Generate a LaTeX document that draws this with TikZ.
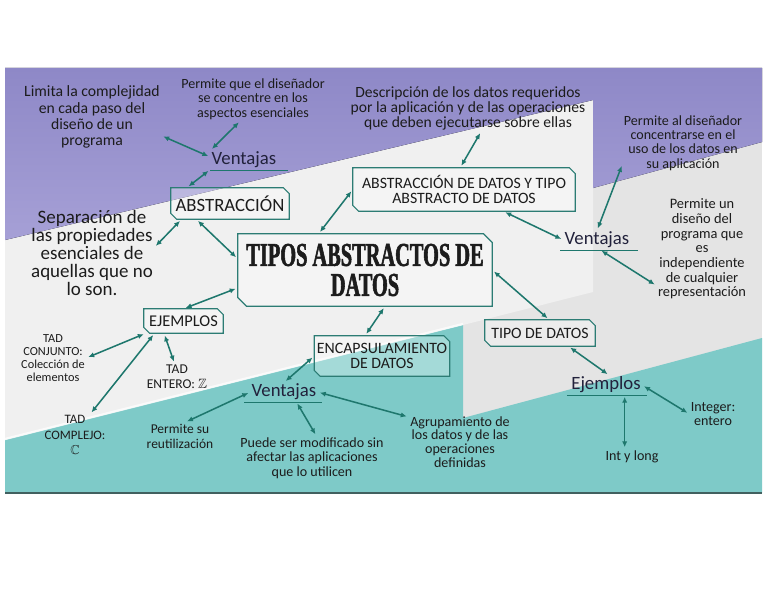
\documentclass[tikz,border=0pt]{standalone}
\usepackage{fontspec}
\usepackage{amssymb}
\setmainfont{Carlito}
\newfontfamily\titlefont[FakeStretch=0.61,FakeBold=1.6]{Liberation Serif}
\usetikzlibrary{arrows.meta}
\definecolor{lilac}{HTML}{A6A0D6}
\definecolor{lilactop}{HTML}{8E88C7}
\definecolor{paper}{HTML}{F0F0F0}
\definecolor{greyface}{HTML}{E4E4E4}
\definecolor{sea}{HTML}{7ECAC8}
\definecolor{linkteal}{HTML}{1E776D}
\definecolor{boxteal}{HTML}{2C7C74}
\definecolor{ink}{HTML}{1C1C1C}
\definecolor{navy}{HTML}{22223C}
\definecolor{rim}{HTML}{41605F}

\pgfdeclarelayer{back}
\pgfsetlayers{back,main}

% outline with two snipped corners (north east, south west)
\newcommand{\snipbox}[2][5pt]{%
	\begin{pgfonlayer}{back}
	\draw[boxline] (#2.north west) -- ([xshift=-#1]#2.north east) -- ([yshift=-#1]#2.north east) -- (#2.south east) -- ([xshift=#1]#2.south west) -- ([yshift=#1]#2.south west) -- cycle;
	\end{pgfonlayer}}

\begin{document}
\begin{tikzpicture}[x=0.03cm,y=-0.03cm,
	link/.style={draw=linkteal, line width=1.3pt, {Latex[length=5pt,width=4.5pt]}-{Latex[length=5pt,width=4.5pt]}, shorten <=2pt, shorten >=2pt},
	box/.style={inner sep=1pt, align=center, text=ink, font=\fontsize{13.5}{13}\selectfont},
	boxline/.style={draw=boxteal, line width=1pt, fill=white, fill opacity=.3},
	note/.style={align=center, inner sep=1pt, text=ink, font=\fontsize{12}{12.2}\selectfont},
	ventaja/.style={inner sep=1pt, text=navy, font=\fontsize{16}{18}\selectfont},
	uline/.style={draw=linkteal, line width=1.3pt}]

	\useasboundingbox (0,0) rectangle (768,594);

	% background
	\begin{pgfonlayer}{back}
	\fill[greyface] (5,68) rectangle (762,493);
	\fill[paper] (5,240) -- (593,100) -- (593,292) -- (463,325) -- (5,440) -- cycle;
	\fill[top color=lilactop, bottom color=lilac] (5,68) -- (762,68) -- (762,142) -- (593,188) -- (593,100) -- (5,240) -- cycle;
	\fill[sea] (5,440) -- (463,325) -- (463,418) -- (762,338) -- (762,493) -- (5,493) -- cycle;
	\draw[white, line width=2pt, opacity=.7] (5,439) -- (463,324);
	\draw[rim, line width=1.5pt] (5,493) -- (762,493);
	\end{pgfonlayer}

	% boxes
	\node[box, minimum width=7.62cm, minimum height=2.16cm, font=\titlefont\bfseries\fontsize{28.5}{25.6}\selectfont] (tad) at (365,270) {TIPOS ABSTRACTOS DE\\DATOS};
	\node[box, minimum width=3.54cm, minimum height=0.93cm, font=\fontsize{16}{16}\selectfont] (abstr) at (230,203.5) {ABSTRACCIÓN};
	\node[box, minimum width=6.66cm, minimum height=1.29cm] (adt) at (464,189.5) {ABSTRACCIÓN DE DATOS Y TIPO\\ABSTRACTO DE DATOS};
	\node[box, minimum width=2.37cm, minimum height=0.72cm, font=\fontsize{14}{14}\selectfont] (ejemplos) at (183.5,321) {EJEMPLOS};
	\node[box, minimum width=4.05cm, minimum height=1.2cm] (encap) at (382,356) {ENCAPSULAMIENTO\\DE DATOS};
	\node[box, minimum width=3.3cm, minimum height=0.78cm] (tipo) at (540,333) {TIPO DE DATOS};
	\snipbox[7.5pt]{tad}
	\snipbox{abstr}
	\snipbox{adt}
	\snipbox{ejemplos}
	\snipbox{encap}
	\snipbox{tipo}

	% ventajas / ejemplos
	\node[ventaja] (venA) at (244,160) {Ventajas};
	\node[ventaja] (venB) at (597,240) {Ventajas};
	\node[ventaja] (venC) at (284,392) {Ventajas};
	\node[ventaja] (ejB) at (606,385) {Ejemplos};
	\draw[uline] (venA.south west) ++(0,1) -- ++(78,0);
	\draw[uline] (venB.south west) ++(-3,1) -- ++(78,0);
	\draw[uline] (venC.south west) ++(-6,1) -- ++(78,0);
	\draw[uline] (ejB.south west) ++(-3,1) -- ++(80,0);

	% texts
	\node[note, font=\fontsize{13.4}{13.8}\selectfont] (limita) at (92,117) {Limita la complejidad\\en cada paso del\\diseño de un\\programa};
	\node[note] (permiteQ) at (253,99) {Permite que el diseñador\\se concentre en los\\aspectos esenciales};
	\node[note, font=\fontsize{16.2}{15.4}\selectfont] (separa) at (92,253) {Separación de\\las propiedades\\esenciales de\\aquellas que no\\lo son.};
	\node[note, font=\fontsize{13.3}{12.8}\selectfont] (descr) at (468,108) {Descripción de los datos requeridos\\por la aplicación y de las operaciones\\que deben ejecutarse sobre ellas};
	\node[note] (permiteA) at (683,143) {Permite al diseñador\\concentrarse en el\\uso de los datos en\\su aplicación};
	\node[note, font=\fontsize{12.3}{12.5}\selectfont] (permiteU) at (702,249) {Permite un\\diseño del\\programa que\\es\\independiente\\de cualquier\\representación};
	\node[note, font=\fontsize{10.5}{11}\selectfont] (conjunto) at (53,358) {TAD\\CONJUNTO:\\Colección de\\elementos};
	\node[note, font=\fontsize{11.5}{12.8}\selectfont] (entero) at (177,377) {TAD\\ENTERO: $\mathbb{Z}$};
	\node[note, font=\fontsize{11}{13}\selectfont] (complejo) at (75,435) {TAD\\COMPLEJO:\\$\mathbb{C}$};
	\node[note, font=\fontsize{11.5}{12.8}\selectfont] (permiteS) at (180,436) {Permite su\\reutilización};
	\node[note] (puede) at (312,458) {Puede ser modificado sin\\afectar las aplicaciones\\que lo utilicen};
	\node[note, font=\fontsize{12}{11.7}\selectfont] (agrupa) at (460,442) {Agrupamiento de\\los datos y de las\\operaciones\\definidas};
	\node[note, font=\fontsize{12}{11.2}\selectfont] (integer) at (713,414) {Integer:\\entero};
	\node[note] (intlong) at (632,457) {Int y long};

	% connectors
	\draw[link] (limita.-15) -- (venA.175);
	\draw[link] (permiteQ.240) -- (venA.north west);
	\draw[link] (venA.south west) -- (abstr.160);
	\draw[link] (abstr.198) -- (separa.5);
	\draw[link] (abstr.205) -- (tad.175);
	\draw[link] (tad.142) -- (adt.west);
	\draw[link] (descr.-60) -- (adt.100);
	\draw[link] (adt.-29) -- (venB.west);
	\draw[link] (venB.north) -- (permiteA.199);
	\draw[link] (venB.-75) -- (permiteU.219);
	\draw[link] (tad.east) -- (tipo.55);
	\draw[link] (tad.-61) -- (encap.130);
	\draw[link] (tad.188) -- (ejemplos.north);
	\draw[link] (ejemplos.198) -- (conjunto.east);
	\draw[link] (ejemplos.203) -- (complejo.54);
	\draw[link] (ejemplos.212) -- (entero.100);
	\draw[link] (encap.west) -- (venC.north);
	\draw[link] (venC.west) -- (permiteS.70);
	\draw[link] (venC.-38) -- (puede.78);
	\draw[link] (venC.east) -- (agrupa.154);
	\draw[link] (tipo.-25) -- (ejB.70);
	\draw[link] (ejB.east) -- (integer.west);
	\draw[link] (ejB.-27) -- (ejB.-27 |- intlong.north);

\end{tikzpicture}
\end{document}
